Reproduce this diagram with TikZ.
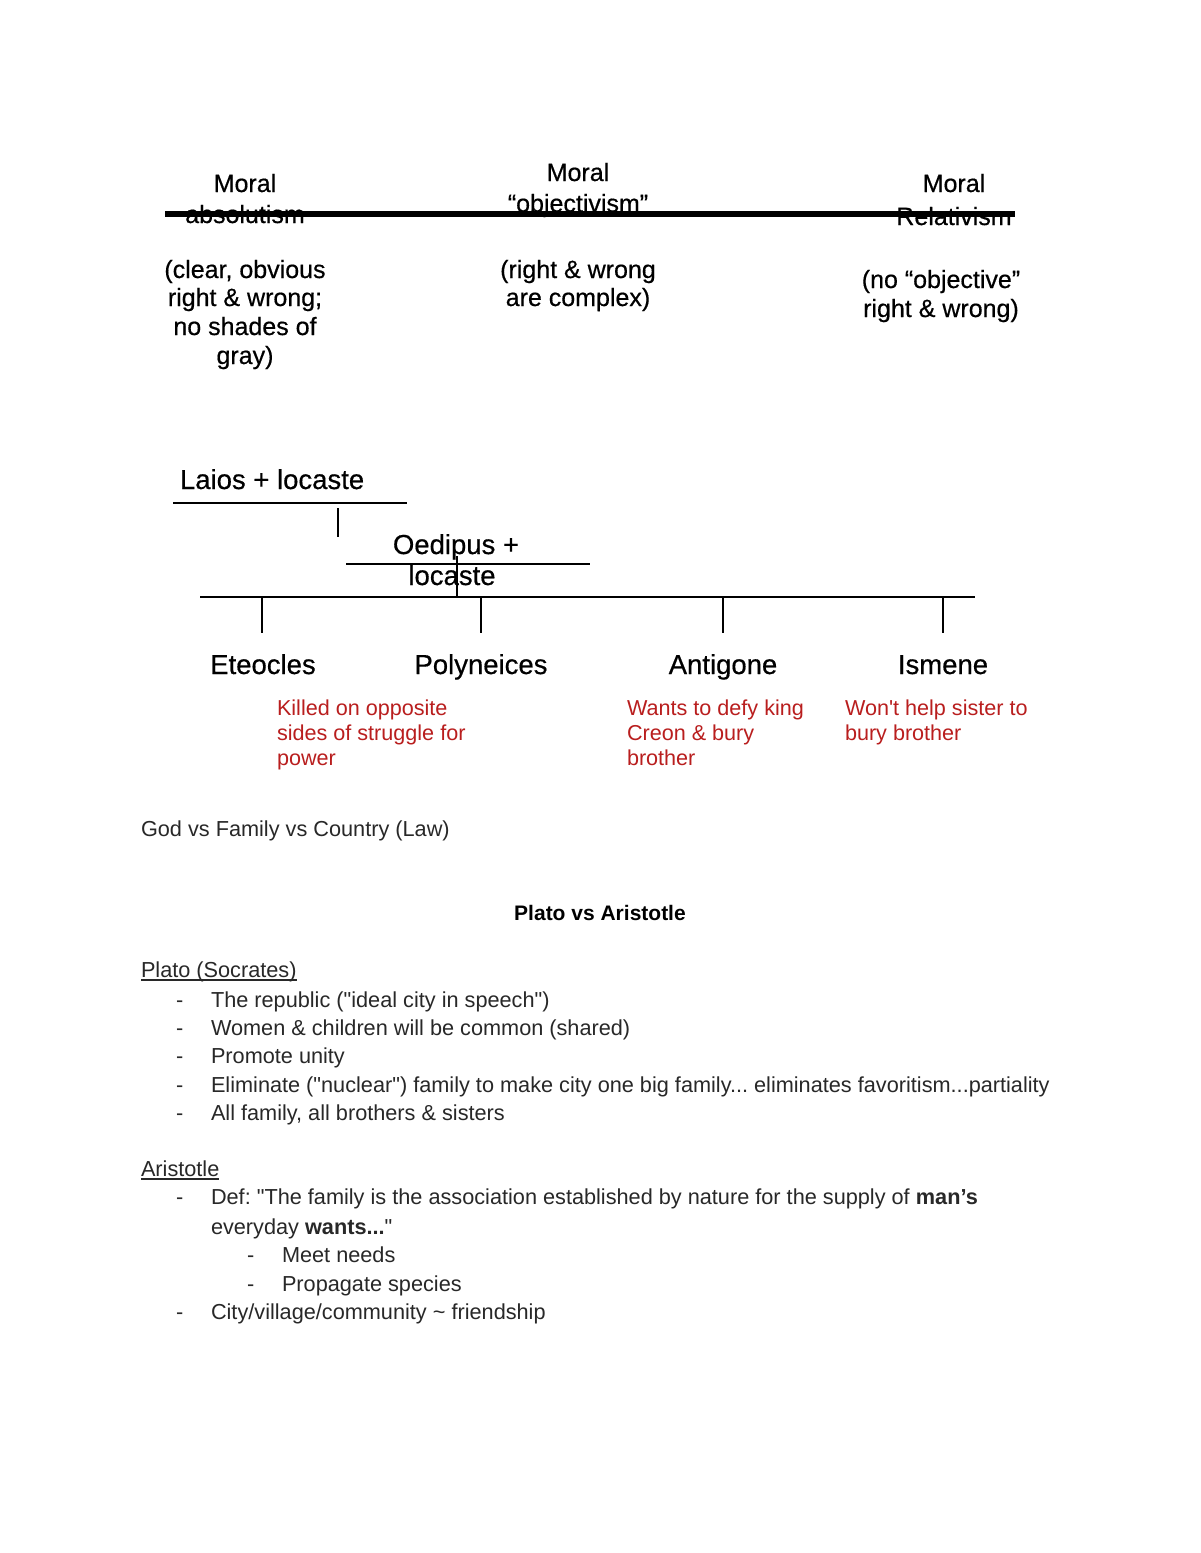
\documentclass[tikz,border=0pt]{standalone}
\usepackage{fontspec}
\setmainfont{Liberation Sans}[Ligatures=TeXOff]
\newfontfamily\heavyfont{Liberation Sans}[Ligatures=TeXOff,FakeBold=0.5]
\frenchspacing
\definecolor{notered}{RGB}{185,30,30}
\definecolor{bodygray}{RGB}{40,40,40}
\tikzset{
  every node/.style={inner sep=0pt, outer sep=0pt},
  head/.style={anchor=base, font=\heavyfont\fontsize{25}{30}\selectfont},
  fam/.style={anchor=base, font=\heavyfont\fontsize{27.5}{31}\selectfont},
  note/.style={anchor=base west, text=notered, font=\fontsize{21.6}{25}\selectfont},
  body/.style={anchor=base west, text=bodygray, font=\fontsize{21.7}{25}\selectfont},
  titlebold/.style={anchor=base, text=black, font=\fontsize{21}{25}\selectfont\bfseries},
  timeline/.style={line width=6pt},
  treeline/.style={line width=2.8pt},
  uline/.style={line width=1.3pt, bodygray},
}
\begin{document}
\begin{tikzpicture}[x=1pt,y=-1pt]
\useasboundingbox (0,0) rectangle (1200,1553);
\fill[white] (0,0) rectangle (1200,1553);

% ---------- timeline ----------
\coordinate (tlA) at (165,214);
\coordinate (tlB) at (1015,214);
\draw[timeline] (tlA) -- (tlB);

\node[head] (absA) at (245,192) {Moral};
\node[head] (absB) at (245,223) {absolutism};
\node[head] (objA) at (578,181) {Moral};
\node[head] (objB) at (578,212) {“objectivism”};
\node[head] (relA) at (954,192) {Moral};
\node[head] (relB) at (954,225) {Relativism};

\node[head] (absC1) at (245,278) {(clear, obvious};
\node[head] (absC2) at (245,306) {right \& wrong;};
\node[head] (absC3) at (245,335) {no shades of};
\node[head] (absC4) at (245,364) {gray)};
\node[head] (objC1) at (578,278) {(right \& wrong};
\node[head] (objC2) at (578,306) {are complex)};
\node[head] (relC1) at (941,288) {(no “objective”};
\node[head] (relC2) at (941,317) {right \& wrong)};

% ---------- family tree ----------
\node[fam, anchor=base west] (laios) at (180,489) {Laios + locaste};
\coordinate (m1L) at (173,503);
\coordinate (m1R) at (407,503);
\draw[treeline] (m1L) -- (m1R);
\coordinate (v1t) at (338,508);
\coordinate (v1b) at (338,537);
\draw[treeline] (v1t) -- (v1b);

\node[fam] (oedA) at (456,554) {Oedipus +};
\node[fam] (oedB) at (452,585) {locaste};
\coordinate (m2L) at (346,564);
\coordinate (m2R) at (590,564);
\draw[treeline] (m2L) -- (m2R);
\coordinate (v2t) at (457,556);
\coordinate (v2b) at (457,598);
\draw[treeline] (v2t) -- (v2b);

\coordinate (kL) at (200,597);
\coordinate (kR) at (975,597);
\draw[treeline] (kL) -- (kR);

\node[fam] (ete) at (263,674) {Eteocles};
\node[fam] (pol) at (481,674) {Polyneices};
\node[fam] (ant) at (723,674) {Antigone};
\node[fam] (ism) at (943,674) {Ismene};
\foreach \xx/\nm in {262/ete,481/pol,723/ant,943/ism}{
  \coordinate (\nm top) at (\xx,597);
  \coordinate (\nm bot) at (\xx,633);
  \draw[treeline] (\nm top) -- (\nm bot);
}

\node[note] (n1a) at (277,715) {Killed on opposite};
\node[note] (n1b) at (277,740) {sides of struggle for};
\node[note] (n1c) at (277,765) {power};
\node[note] (n2a) at (627,715) {Wants to defy king};
\node[note] (n2b) at (627,740) {Creon \& bury};
\node[note] (n2c) at (627,765) {brother};
\node[note] (n3a) at (845,715) {Won't help sister to};
\node[note] (n3b) at (845,740) {bury brother};

% ---------- notes ----------
\node[body] (god) at (141,836) {God vs Family vs Country (Law)};
\node[titlebold] (pva) at (600,920) {Plato vs Aristotle};

\node[body] (plato) at (141,977) {Plato (Socrates)};
\draw[uline] ([yshift=-3]plato.base west) -- ([yshift=-3]plato.base east);
\foreach \yy/\nm/\tx in {
  1007/p1/{The republic ("ideal city in speech")},
  1035/p2/{Women \& children will be common (shared)},
  1063/p3/{Promote unity},
  1092/p4/{Eliminate ("nuclear") family to make city one big family... eliminates favoritism...partiality},
  1120/p5/{All family, all brothers \& sisters}}{
  \node[body] (\nm dash) at (176,\yy) {-};
  \node[body] (\nm) at (211,\yy) {\tx};
}

\node[body] (arist) at (141,1176) {Aristotle\ };
\draw[uline] ([yshift=-3]arist.base west) -- ([yshift=-3]arist.base east);
\node[body] (a1dash) at (176,1204) {-};
\node[body] (a1) at (211,1204) {Def: "The family is the association established by nature for the supply of \textbf{man’s}};
\node[body] (a1b) at (211,1234) {everyday \textbf{wants...}"};
\node[body] (a2dash) at (247,1262) {-};
\node[body] (a2) at (282,1262) {Meet needs};
\node[body] (a3dash) at (247,1291) {-};
\node[body] (a3) at (282,1291) {Propagate species};
\node[body] (a4dash) at (176,1319) {-};
\node[body] (a4) at (211,1319) {City/village/community \textasciitilde{} friendship};
\end{tikzpicture}
\end{document}
